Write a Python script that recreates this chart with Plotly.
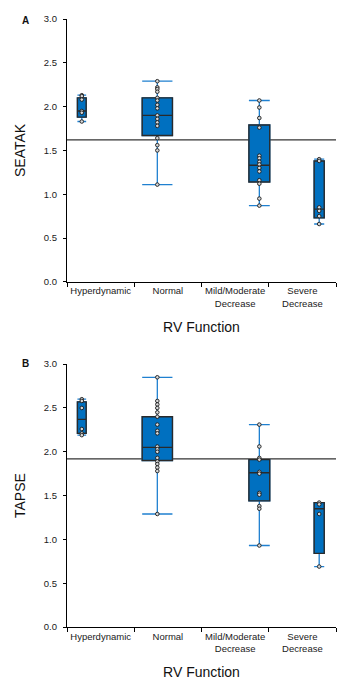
import plotly.graph_objects as go

# ---------------- data ----------------
categories = ["Hyperdynamic", "Normal", "Mild/Moderate<br>Decrease", "Severe<br>Decrease"]

seatak_points = [
    [2.13, 2.12, 2.08, 1.95, 1.93, 1.83],
    [2.29, 2.22, 2.20, 2.17, 2.10, 2.07, 2.02, 1.98, 1.90, 1.86, 1.82, 1.78, 1.64, 1.56, 1.50, 1.11],
    [2.07, 1.99, 1.87, 1.76, 1.44, 1.41, 1.37, 1.34, 1.30, 1.26, 1.16, 1.12, 0.95, 0.87],
    [1.40, 1.38, 0.85, 0.81, 0.75, 0.66],
]
seatak_q1 = [1.88, 1.67, 1.14, 0.73]
seatak_median = [1.95, 1.90, 1.33, 0.83]
seatak_q3 = [2.10, 2.10, 1.79, 1.38]
seatak_low = [1.83, 1.11, 0.87, 0.66]
seatak_high = [2.13, 2.29, 2.07, 1.40]
seatak_ref = 1.62

tapse_points = [
    [2.60, 2.58, 2.50, 2.26, 2.21, 2.19],
    [2.85, 2.58, 2.54, 2.50, 2.45, 2.40, 2.31, 2.24, 2.21, 2.06, 2.03, 2.00, 1.93, 1.89, 1.86, 1.82, 1.78, 1.29],
    [2.31, 2.06, 1.93, 1.91, 1.77, 1.75, 1.53, 1.51, 1.38, 1.35, 0.93],
    [1.42, 1.40, 1.29, 0.69],
]
tapse_q1 = [2.21, 1.90, 1.44, 0.84]
tapse_median = [2.37, 2.05, 1.76, 1.35]
tapse_q3 = [2.57, 2.40, 1.91, 1.42]
tapse_low = [2.19, 1.29, 0.93, 0.69]
tapse_high = [2.60, 2.85, 2.31, 1.42]
tapse_ref = 1.92

y_ticks = [0.0, 0.5, 1.0, 1.5, 2.0, 2.5, 3.0]

# ---------------- style ----------------
box_offsets = [-0.28, -0.157, 0.36, 0.25]   # offset of each box from its category centre
box_widths = [0.13, 0.45, 0.31, 0.15]
BOX_FILL = "#0070C0"
WHISKER = "#1f80d0"
OUTLINE = "#2a2a2a"
FONT = "Liberation Sans, Arial, sans-serif"

fig = go.Figure()


def add_panel(points, q1, med, q3, low, high, xa, ya):
    for i in range(len(categories)):
        pos = i + box_offsets[i]
        fig.add_trace(go.Box(
            x=[pos], q1=[q1[i]], median=[med[i]], q3=[q3[i]],
            lowerfence=[low[i]], upperfence=[high[i]],
            width=box_widths[i], whiskerwidth=1,
            fillcolor=BOX_FILL, line=dict(color=WHISKER, width=1.3),
            boxpoints=False, xaxis=xa, yaxis=ya, showlegend=False, hoverinfo="skip"))
        fig.add_trace(go.Box(
            x=[pos], q1=[q1[i]], median=[med[i]], q3=[q3[i]],
            lowerfence=[q1[i]], upperfence=[q3[i]],
            width=box_widths[i], whiskerwidth=0,
            fillcolor=BOX_FILL, line=dict(color=OUTLINE, width=1.4),
            boxpoints=False, xaxis=xa, yaxis=ya, showlegend=False, hoverinfo="skip"))
        fig.add_trace(go.Scatter(
            x=[pos] * len(points[i]), y=points[i], mode="markers",
            marker=dict(symbol="circle", size=3.6, color="#d8d8d8",
                        line=dict(color="#1a1a1a", width=0.9)),
            xaxis=xa, yaxis=ya, showlegend=False, hoverinfo="skip"))


add_panel(seatak_points, seatak_q1, seatak_median, seatak_q3, seatak_low, seatak_high, "x", "y")
add_panel(tapse_points, tapse_q1, tapse_median, tapse_q3, tapse_low, tapse_high, "x2", "y2")

for yref, xdom, val in [("y", "x domain", seatak_ref), ("y2", "x2 domain", tapse_ref)]:
    fig.add_shape(type="line", xref=xdom, yref=yref, x0=0, x1=1, y0=val, y1=val,
                  line=dict(color="#333333", width=1.3), layer="below")

xaxis_common = dict(
    range=[-0.5, 3.5], tickmode="array", tickvals=[0, 1, 2, 3], ticktext=categories,
    ticks="", showline=True, linecolor="black", linewidth=1.3, showgrid=False,
    zeroline=False, tickfont=dict(size=9.5, color="#1a1a1a"), automargin=False,
    minor=dict(tickmode="array", tickvals=[-0.5, 0.5, 1.5, 2.5, 3.5], ticks="outside",
               ticklen=4, tickwidth=1.3, tickcolor="black", showgrid=False),
    title=dict(text="RV Function", font=dict(size=14, color="#111"), standoff=14),
)
yaxis_common = dict(
    range=[0, 3], tickmode="array", tickvals=y_ticks, tickformat=".1f",
    ticks="outside", ticklen=3, tickwidth=1.3, tickcolor="black",
    showline=True, linecolor="black", linewidth=1.3, showgrid=False, zeroline=False,
    tickfont=dict(size=9.5, color="#1a1a1a"), ticklabelstandoff=4, automargin=False,
)

# page body adds an 8px offset, so the figure is sized to fit the window after it
fig.update_layout(
    width=354, height=686,
    margin=dict(l=59, r=26, t=11, b=67),
    paper_bgcolor="white", plot_bgcolor="white",
    font=dict(family=FONT, color="#111"),
    boxmode="overlay",
    xaxis=dict(**xaxis_common, domain=[0, 1], anchor="y"),
    yaxis=dict(**yaxis_common, domain=[0.5677, 1], anchor="x",
               title=dict(text="SEATAK", font=dict(size=14, color="#111"), standoff=14)),
    xaxis2=dict(**xaxis_common, domain=[0, 1], anchor="y2"),
    yaxis2=dict(**yaxis_common, domain=[0, 0.4323], anchor="x2",
                title=dict(text="TAPSE", font=dict(size=14, color="#111"), standoff=14)),
    annotations=[
        dict(text="<b>A</b>", xref="paper", yref="paper", x=-0.155, y=0.997,
             showarrow=False, font=dict(size=10, color="#111"), xanchor="center", yanchor="middle"),
        dict(text="<b>B</b>", xref="paper", yref="paper", x=-0.155, y=0.434,
             showarrow=False, font=dict(size=10, color="#111"), xanchor="center", yanchor="middle"),
    ],
)

fig.write_html("out.html")
